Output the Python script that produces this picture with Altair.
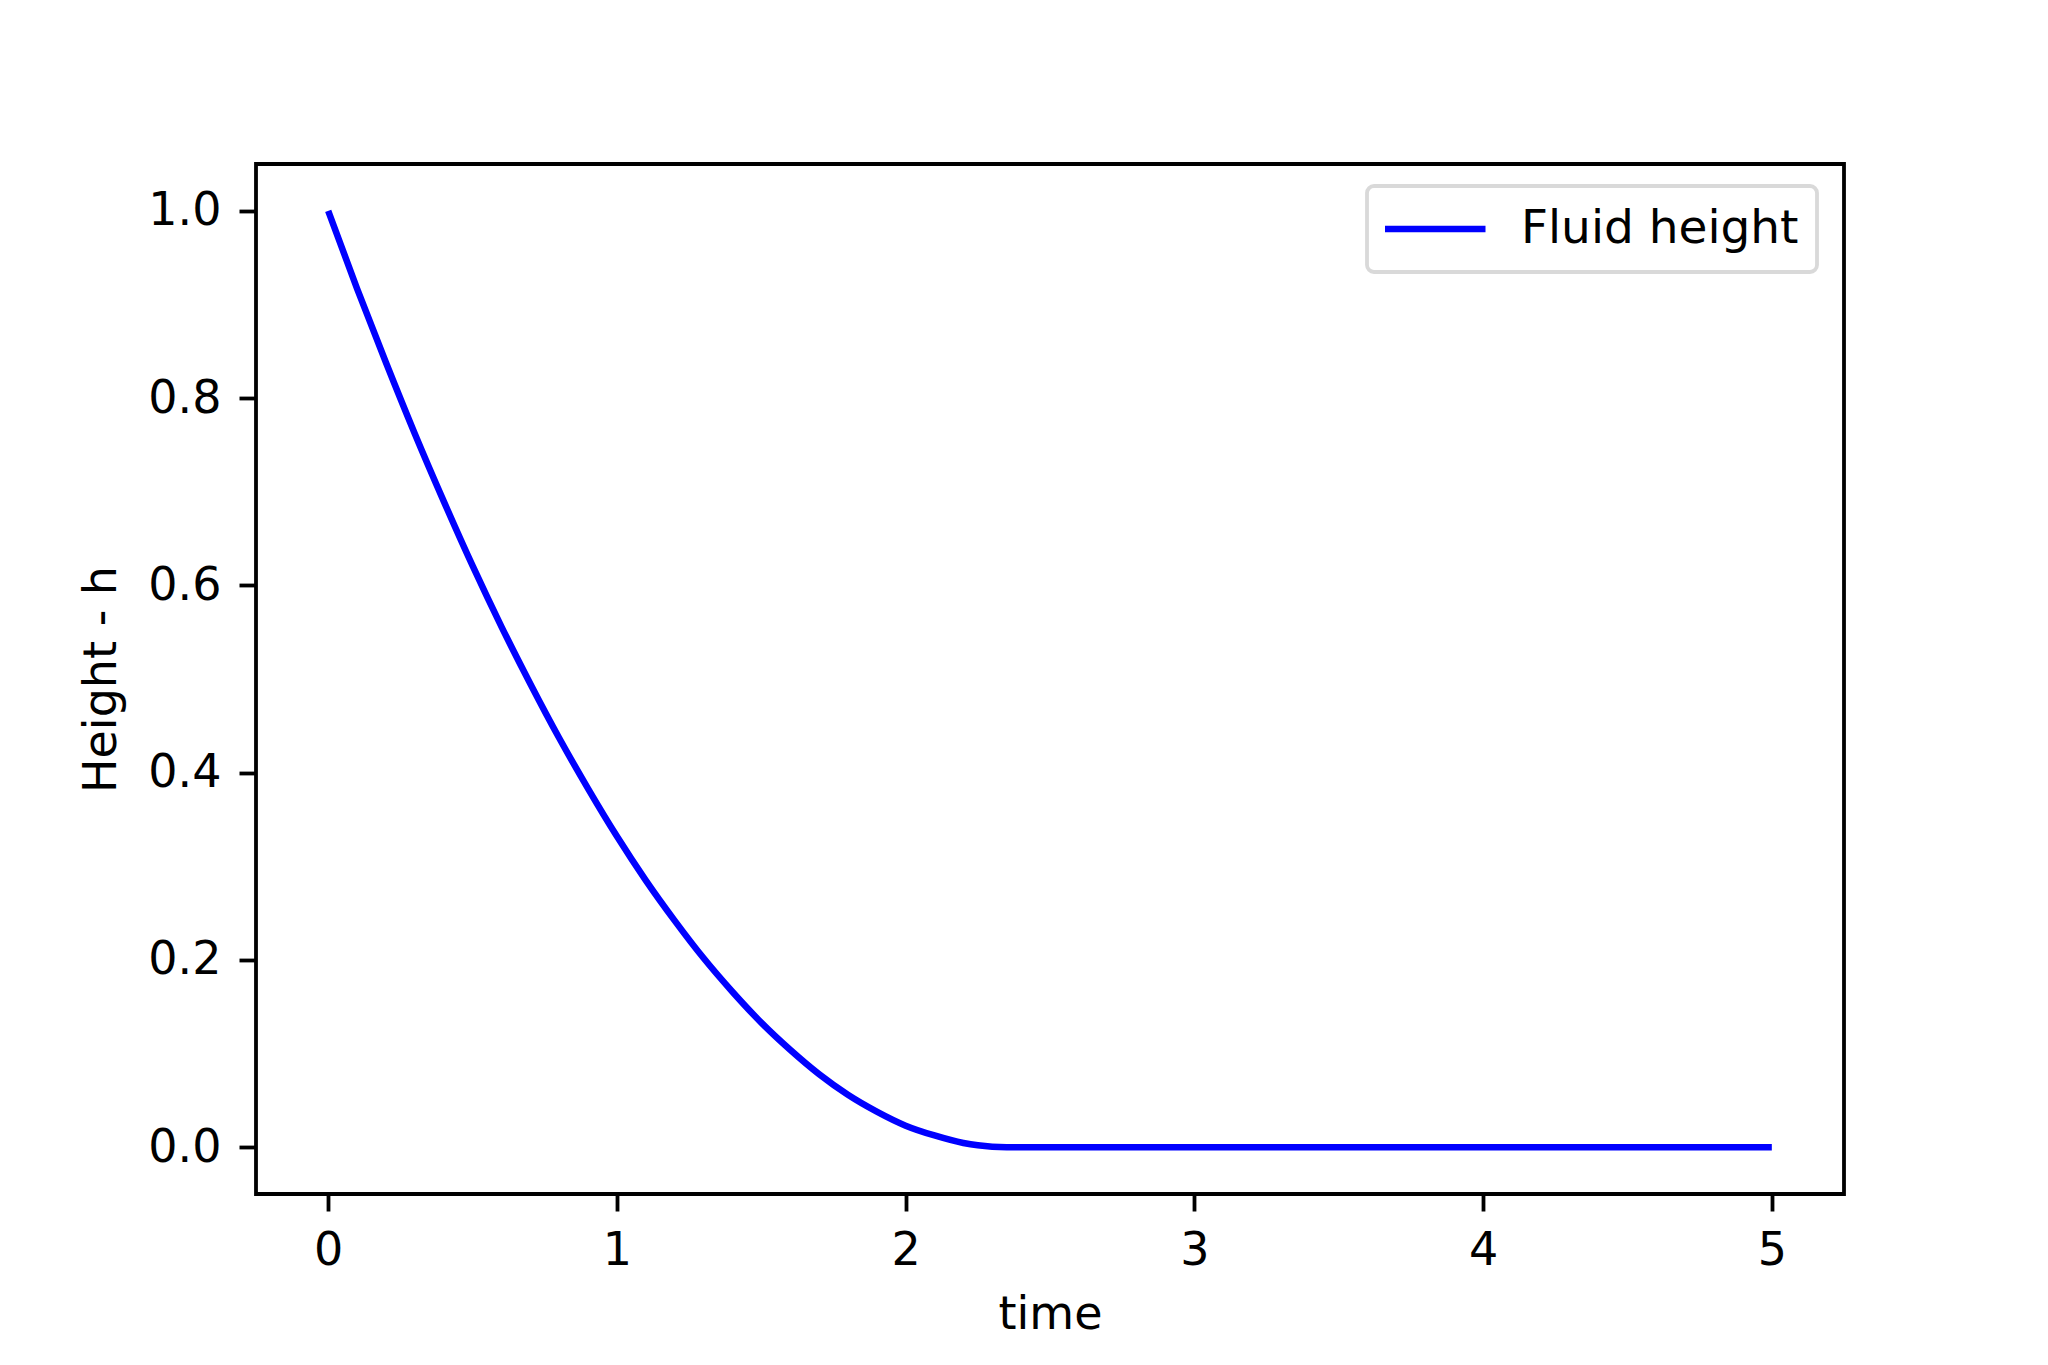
import altair as alt
import pandas as pd

# values
time = [0.0, 0.1, 0.2, 0.3, 0.4, 0.5, 0.6, 0.7, 0.8, 0.9, 1.0, 1.1, 1.2, 1.3,
        1.4, 1.5, 1.6, 1.7, 1.8, 1.9, 2.0, 2.1, 2.2, 2.25, 2.3, 2.35, 2.5, 3.0,
        3.5, 4.0, 4.5, 5.0]
height = [1.0, 0.917, 0.838, 0.762, 0.690, 0.621, 0.556, 0.495, 0.437, 0.383,
          0.332, 0.285, 0.242, 0.202, 0.166, 0.133, 0.104, 0.078, 0.056, 0.038,
          0.023, 0.0125, 0.0045, 0.002, 0.0005, 0.0, 0.0, 0.0, 0.0, 0.0, 0.0, 0.0]
series_name = "Fluid height"
x_ticks = [0, 1, 2, 3, 4, 5]
y_ticks = [0.0, 0.2, 0.4, 0.6, 0.8, 1.0]

df = pd.DataFrame({"time": time, "h": height, "series": [series_name] * len(time)})

FONT = "DejaVu Sans"

chart = (
    alt.Chart(df)
    .mark_line(strokeWidth=6.5, interpolate="monotone")
    .encode(
        x=alt.X(
            "time:Q",
            scale=alt.Scale(domain=[-0.25, 5.25], nice=False, zero=False),
            axis=alt.Axis(values=x_ticks, title="time", format="d"),
        ),
        y=alt.Y(
            "h:Q",
            scale=alt.Scale(domain=[-0.05, 1.05], nice=False, zero=False),
            axis=alt.Axis(values=y_ticks, title="Height - h", format=".1f"),
        ),
        color=alt.Color(
            "series:N",
            scale=alt.Scale(domain=[series_name], range=["#0000ff"]),
            legend=alt.Legend(
                title=None,
                orient="none",
                legendX=1111,
                legendY=22,
                symbolType="stroke",
                symbolSize=10816,
                symbolStrokeWidth=6.5,
                symbolOffset=-7,
                labelFont=FONT,
                labelFontSize=47,
                labelColor="black",
                labelOffset=32,
                labelLimit=600,
                clipHeight=50,
                padding=18,
                strokeColor="#d9d9d9",
                fillColor="white",
                cornerRadius=7,
            ),
        ),
    )
    .properties(
        width=1588,
        height=1030,
        autosize=alt.AutoSizeParams(type="none"),
        padding={"left": 256, "top": 164, "right": 204, "bottom": 171},
        background="white",
    )
    .configure_view(stroke="black", strokeWidth=3.8)
    .configure_axis(
        domain=False,
        grid=False,
        ticks=True,
        tickColor="black",
        tickWidth=3.8,
        tickSize=17,
        labelFont=FONT,
        labelFontSize=46,
        labelColor="black",
        titleFont=FONT,
        titleFontSize=46,
        titleFontWeight="normal",
        titleColor="black",
    )
    .configure_axisX(labelPadding=17, titlePadding=19)
    .configure_axisY(labelPadding=18, titlePadding=22)
    .configure_legend(strokeWidth=3.8)
)

chart.save("out.html", embed_options={"renderer": "svg", "actions": False})
